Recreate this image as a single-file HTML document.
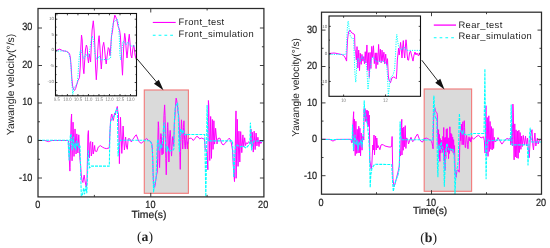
<!DOCTYPE html><html><head><meta charset="utf-8"><style>html,body{margin:0;padding:0;background:#fff;}svg{display:block;filter:blur(0.3px);}text{font-family:"Liberation Sans",Arial,sans-serif;fill:#222;text-rendering:geometricPrecision;stroke:#222;stroke-width:0.22px;}.cap{font-family:"Liberation Serif","Times New Roman",serif;stroke:none;}</style></head><body><svg width="550" height="248" viewBox="0 0 550 248"><rect width="550" height="248" fill="#fff"/><defs><clipPath id="ca"><rect x="38" y="8.5" width="225.9" height="188.4"/></clipPath><clipPath id="cb"><rect x="321.5" y="12.2" width="220" height="182.0"/></clipPath><clipPath id="cia"><rect x="55.5" y="13.5" width="81" height="82.3"/></clipPath><clipPath id="cib"><rect x="329" y="16" width="91.5" height="80.3"/></clipPath></defs><rect x="144.3" y="90" width="44.1" height="103.3" fill="#dadada" stroke="#f27d7d" stroke-width="1.15"/><g clip-path="url(#ca)" fill="none" stroke-linejoin="round"><polyline points="38,140.5 45,140.5 47,141.2 48.5,141.6 50,141 52,140.5 68,140.5 68.7,142 69,152.85 69.9,171.1 70.02,167.55 71.1,120.38 71.6,114 72.06,160.79 73.06,122.16 74.03,156.38 75.03,128.93 76.06,154 76.82,133.89 77.88,152.98 78.76,134.81 79.83,157.76 80.6,165 81.2,174 82.1,181 82.9,182.5 83.6,178 84.2,175 85.2,182 86.3,187 87,180 87.4,160 87.9,135 88.4,130.6 88.9,150 89.4,158 90,143 90.7,141.5 91.3,156 92,152 92.6,142 93.3,154 94,150 94.6,145.5 95.2,151 96.7,151.6 98.3,147 100.3,145.6 102.3,147 104.3,148.1 106.3,148.6 108.8,148.1 109.3,147 109.8,135 110.5,122 111.2,116 111.8,114 112.4,117 113.2,120.5 114,117 114.6,113 115.3,115 116,111 116.8,108 117.3,106.5 117.9,112 118.5,114.1 119,140 119.4,163.7 119.9,140 120.5,117.3 121.1,135 121.8,153.4 122.5,140 123.1,126 123.8,140 124.4,150 125,145 125.6,137 126.4,146 127.3,149.3 128.2,138.8 129.8,138.8 131.4,142 132.6,139.5 133.8,138 135,136 136.3,134.8 137.5,138 138.7,141.3 141.1,143.3 143.5,141.5 144.4,140.5 144.36,140.09 145.17,139.73 146.56,138.43 148.22,140.32 150.26,141.15 151.28,142.34 151.92,144.23 152.35,148.97 152.73,158.45 153.1,172.67 153.53,182.15 154.07,186.29 154.6,187.36 155.14,185.11 155.67,180.96 156.43,175.63 157.23,172.08 157.66,158.45 157.93,137.12 158.3,121.72 158.68,127.64 158.94,145.42 159.21,160.82 159.59,167.57 159.96,153.71 160.39,139.49 160.93,133.57 161.36,136.53 161.68,148.97 162.05,154.9 162.48,144.23 162.86,148.97 163.18,153.71 163.5,137.12 163.98,115.8 164.63,104.9 165.06,115.8 165.43,133.57 165.81,158.45 166.24,174.8 166.67,160.82 167.04,139.49 167.42,127.64 167.74,122.55 168.11,133.57 168.49,148.97 168.92,162 169.29,151.34 169.67,135.94 170.2,130.37 170.63,137.12 171.12,148.97 171.54,156.08 172.03,146.6 172.67,136.65 173.15,138.31 173.58,146.25 174.01,134.75 174.39,122.91 174.92,116.98 175.46,106.32 176.15,98.14 176.69,100.39 177.17,103.59 177.6,107.5 177.98,111.77 178.67,115.32 179.16,122.91 179.59,139.49 179.96,157.27 180.28,169.35 180.6,151.34 180.98,133.57 181.46,119.82 181.89,126.46 182.27,139.49 182.7,148.97 183.12,139.49 183.5,127.64 183.93,120.77 184.36,132.38 184.79,145.42 185.27,148.97 185.75,139.49 186.18,133.92 186.61,137.12 186.98,145.42 187.41,148.97 187.79,141.86 187.7,144 188.5,139 190,138.1 191.6,138.4 193.3,140.5 195,138.5 196.5,136.5 198,136.8 199.7,138.9 201.3,138 203,138.6 204.5,139.3 205.3,150 206.9,150.82 207.87,169.75 208.4,100.5 208.76,105.35 209.77,160.54 210.67,116.48 211.48,158.4 212.33,119.48 213.07,149.36 213.88,120.73 214.61,144.1 215.6,128.27 217,144 218,138.5 219.9,138.1 221.5,143 223,145 225,143.5 226.8,141 228,139.5 229.3,138.1 230.5,140 231.5,144 232.5,150 233.2,164 234.5,181.6 235.3,143.83 236,110.9 236.11,178.29 237.25,119.24 238.06,166.38 238.95,131.2 239.8,162.02 240.68,131.6 241.79,152.66 242.9,134.9 243.68,146.99 244.67,137.78 245.5,145.48 246.48,142.72 247.53,143.89 248.51,141.79 250,143 250.3,143.7 251,129.2 251.48,146.36 252.31,132.27 253.28,152.08 254.13,131.13 255.11,149.6 256.09,133.03 256.93,145.9 257.9,137.26 258.99,146.57 259.81,140.06 260.85,143.52 261.9,141.83 262.84,140.75" stroke="#ff00ff" stroke-width="1.0"/><polyline points="38,140.2 68,140.2 68.6,150 69.1,160 69.7,146 70.3,136 71,134 71.6,140 72.2,150 72.8,142 73.4,137 74.2,148 75,143 75.8,150 76.6,141 77.4,146 78.2,143 79,148 80,146 80.6,170 81.3,196 82.5,195 83.6,188 84.6,194 85.8,186 86.8,193 87.5,175 88.2,150 88.8,160 89.6,168 91.2,166.1 109.3,166.1 109.6,150 110,130 110.6,122 111.5,120 112.5,118 113.5,117 114.5,115 115.5,112 116.3,110 116.9,108.5 117.4,112 117.7,130 118.1,156 118.6,150 119.3,142 120.5,140.2 144.4,140.2 144.36,140.68 149.99,140.68 151.49,143.64 152.3,150.16 152.78,163.19 153.1,177.41 153.64,191.98 154.17,185.7 154.98,182.15 156,179.78 156.53,165.56 156.96,151.34 157.39,141.86 158.03,139.49 158.84,145.42 159.64,150.16 160.71,144.23 161.79,147.79 162.75,139.49 163.5,127.64 164.15,122.91 164.74,128.83 165.54,144.23 166.61,151.34 167.68,146.6 168.76,151.34 170.36,150.75 172.51,150.75 173.9,148.97 174.28,127.64 174.65,114.61 175.3,107.5 176.15,105.13 176.96,103.95 177.6,103.12 178.14,108.69 178.57,125.27 178.89,145.42 179.37,151.34 179.91,139.49 180.55,128.83 181.36,130.01 182.16,133.57 183.23,130.01 184.57,134.75 187.79,134.75 187.7,134.5 204.7,134.5 205.2,160 205.8,196.6 206.3,170 207.1,105 207.6,125 208.2,140.9 232.5,140.9 233.3,160 233.8,177.3 234.5,160 235.5,146.4 237,145 240,147 243,146 246,148 248,146 249.8,144 250.4,123 251,135 251.6,150 252.5,145 254,141 263.5,141" stroke="#00ffff" stroke-width="1.1" stroke-dasharray="3 1"/></g><rect x="38" y="8.5" width="225.9" height="188.4" fill="none" stroke="#2b2b2b" stroke-width="1.25"/><path d="M150.75,196.9v-4M150.75,8.5v4M94.38,196.9v-2M94.38,8.5v2M207.12,196.9v-2M207.12,8.5v2M38,28h4M263.9,28h-4M38,65.5h4M263.9,65.5h-4M38,103h4M263.9,103h-4M38,140.5h4M263.9,140.5h-4M38,178h4M263.9,178h-4M38,46.75h2M263.9,46.75h-2M38,84.25h2M263.9,84.25h-2M38,121.75h2M263.9,121.75h-2M38,159.25h2M263.9,159.25h-2" stroke="#2b2b2b" stroke-width="0.9" fill="none"/><text x="32.3" y="30.2" font-size="10.5" text-anchor="end" textLength="10.16" lengthAdjust="spacingAndGlyphs">30</text><text x="32.3" y="67.7" font-size="10.5" text-anchor="end" textLength="10.16" lengthAdjust="spacingAndGlyphs">20</text><text x="32.3" y="105.2" font-size="10.5" text-anchor="end" textLength="10.16" lengthAdjust="spacingAndGlyphs">10</text><text x="32.3" y="142.7" font-size="10.5" text-anchor="end" textLength="5.08" lengthAdjust="spacingAndGlyphs">0</text><text x="32.3" y="181" font-size="10.5" text-anchor="end" textLength="13.2" lengthAdjust="spacingAndGlyphs">-10</text><text x="37.7" y="208.3" font-size="10.5" text-anchor="middle" textLength="5.08" lengthAdjust="spacingAndGlyphs">0</text><text x="150.45" y="208.3" font-size="10.5" text-anchor="middle" textLength="10.16" lengthAdjust="spacingAndGlyphs">10</text><text x="263.2" y="208.3" font-size="10.5" text-anchor="middle" textLength="10.16" lengthAdjust="spacingAndGlyphs">20</text><text x="149" y="217.6" font-size="10.4" text-anchor="middle">Time(s)</text><text transform="translate(14.2,84.5) rotate(-90)" font-size="10.4" text-anchor="middle" style="stroke:none">Yawangle velocity(°/s)</text><text class="cap" x="145" y="241.3" font-size="13.7" text-anchor="middle">(<tspan font-weight="bold">a</tspan>)</text><line x1="152.8" y1="22.45" x2="175.7" y2="22.45" stroke="#ff00ff" stroke-width="1.1"/><line x1="152.8" y1="35.2" x2="175.7" y2="35.2" stroke="#00ffff" stroke-width="1.1" stroke-dasharray="2.8 3"/><text x="178.6" y="25.0" font-size="9.4" letter-spacing="0.38" style="stroke:none">Front_test</text><text x="178.6" y="37.4" font-size="9.4" letter-spacing="0.38" style="stroke:none">Front_simulation</text><rect x="55.5" y="13.5" width="81" height="82.3" fill="#fff"/><g clip-path="url(#cia)" fill="none" stroke-linejoin="round"><polyline points="55.5,50.5 57,50.2 59.6,49.1 62.7,50.7 66.5,51.4 68.4,52.4 69.6,54 70.4,58 71.1,66 71.8,78 72.6,86 73.6,89.5 74.6,90.4 75.6,88.5 76.6,85 78,80.5 79.5,77.5 80.3,66 80.8,48 81.5,35 82.2,40 82.7,55 83.2,68 83.9,73.7 84.6,62 85.4,50 86.4,45 87.2,47.5 87.8,58 88.5,63 89.3,54 90,58 90.6,62 91.2,48 92.1,30 93.3,20.8 94.1,30 94.8,45 95.5,66 96.3,79.8 97.1,68 97.8,50 98.5,40 99.1,35.7 99.8,45 100.5,58 101.3,69 102,60 102.7,47 103.7,42.3 104.5,48 105.4,58 106.2,64 107.1,56 108.3,47.6 109.2,49 110,55.7 110.8,46 111.5,36 112.5,31 113.5,22 114.8,15.1 115.8,17 116.7,19.7 117.5,23 118.2,26.6 119.5,29.6 120.4,36 121.2,50 121.9,65 122.5,75.2 123.1,60 123.8,45 124.7,33.4 125.5,39 126.2,50 127,58 127.8,50 128.5,40 129.3,34.2 130.1,44 130.9,55 131.8,58 132.7,50 133.5,45.3 134.3,48 135,55 135.8,58 136.5,52" stroke="#ff00ff" stroke-width="1"/><polyline points="55.5,51 66,51 68.8,53.5 70.3,59 71.2,70 71.8,82 72.8,94.3 73.8,89 75.3,86 77.2,84 78.2,72 79,60 79.8,52 81,50 82.5,55 84,59 86,54 88,57 89.8,50 91.2,40 92.4,36 93.5,41 95,54 97,60 99,56 101,60 104,59.5 108,59.5 110.6,58 111.3,40 112,29 113.2,23 114.8,21 116.3,20 117.5,19.3 118.5,24 119.3,38 119.9,55 120.8,60 121.8,50 123,41 124.5,42 126,45 128,42 130.5,46 136.5,46" stroke="#00ffff" stroke-width="1" stroke-dasharray="1.2 1.2"/></g><rect x="55.5" y="13.5" width="81" height="82.3" fill="none" stroke="#111" stroke-width="1.1"/><path d="M56.9,95.8v-1.8M56.9,13.5v1.8M67.41,95.8v-1.8M67.41,13.5v1.8M77.93,95.8v-1.8M77.93,13.5v1.8M88.44,95.8v-1.8M88.44,13.5v1.8M98.96,95.8v-1.8M98.96,13.5v1.8M109.47,95.8v-1.8M109.47,13.5v1.8M119.99,95.8v-1.8M119.99,13.5v1.8M130.5,95.8v-1.8M130.5,13.5v1.8M55.5,19.2h1.8M136.5,19.2h-1.8M55.5,35.03h1.8M136.5,35.03h-1.8M55.5,50.85h1.8M136.5,50.85h-1.8M55.5,66.67h1.8M136.5,66.67h-1.8M55.5,82.5h1.8M136.5,82.5h-1.8M55.5,27.11h1.0M136.5,27.11h-1.0M55.5,42.94h1.0M136.5,42.94h-1.0M55.5,58.76h1.0M136.5,58.76h-1.0M55.5,74.59h1.0M136.5,74.59h-1.0M55.5,90.41h1.0M136.5,90.41h-1.0" stroke="#111" stroke-width="0.8" fill="none"/><path d="M62.16,95.8v-1M72.67,95.8v-1M83.19,95.8v-1M93.7,95.8v-1M104.22,95.8v-1M114.73,95.8v-1M125.25,95.8v-1" stroke="#111" stroke-width="0.8"/><text x="53.9" y="19.8" font-size="4.5" text-anchor="end" style="fill:#6a6a6a;stroke:none">10</text><text x="53.9" y="35.63" font-size="4.5" text-anchor="end" style="fill:#6a6a6a;stroke:none">5</text><text x="53.9" y="51.45" font-size="4.5" text-anchor="end" style="fill:#6a6a6a;stroke:none">0</text><text x="53.9" y="67.27" font-size="4.5" text-anchor="end" style="fill:#6a6a6a;stroke:none">-5</text><text x="53.9" y="83.1" font-size="4.5" text-anchor="end" style="fill:#6a6a6a;stroke:none">-10</text><text x="56.9" y="100.6" font-size="5.1" text-anchor="middle" textLength="5.6" lengthAdjust="spacingAndGlyphs" style="fill:#777;stroke:none">9.5</text><text x="67.41" y="100.6" font-size="5.1" text-anchor="middle" textLength="8.1" lengthAdjust="spacingAndGlyphs" style="fill:#777;stroke:none">10.0</text><text x="77.93" y="100.6" font-size="5.1" text-anchor="middle" textLength="8.1" lengthAdjust="spacingAndGlyphs" style="fill:#777;stroke:none">10.5</text><text x="88.44" y="100.6" font-size="5.1" text-anchor="middle" textLength="8.1" lengthAdjust="spacingAndGlyphs" style="fill:#777;stroke:none">11.0</text><text x="98.96" y="100.6" font-size="5.1" text-anchor="middle" textLength="8.1" lengthAdjust="spacingAndGlyphs" style="fill:#777;stroke:none">11.5</text><text x="109.47" y="100.6" font-size="5.1" text-anchor="middle" textLength="8.1" lengthAdjust="spacingAndGlyphs" style="fill:#777;stroke:none">12.0</text><text x="119.99" y="100.6" font-size="5.1" text-anchor="middle" textLength="8.1" lengthAdjust="spacingAndGlyphs" style="fill:#777;stroke:none">12.5</text><text x="130.5" y="100.6" font-size="5.1" text-anchor="middle" textLength="8.1" lengthAdjust="spacingAndGlyphs" style="fill:#777;stroke:none">13.0</text><line x1="136.8" y1="58.6" x2="157.69" y2="83.33" stroke="#111" stroke-width="0.9"/><polygon points="163.5,90.2 153.96,83.86 158.84,79.73" fill="#111"/><rect x="424.2" y="89" width="47.4" height="102.3" fill="#dadada" stroke="#f27d7d" stroke-width="1.15"/><g clip-path="url(#cb)" fill="none" stroke-linejoin="round"><polyline points="321.5,139.3 330,139.4 331.5,140.5 333,141 334.5,140.3 336.5,139.4 351,139.3 351.6,142.71 352.32,142.5 353.01,122.5 353.65,111.7 353.73,151.09 354.43,119.13 355.22,155.65 355.86,121.27 356.65,153.49 357.22,129.33 358.05,153.03 358.78,126.23 359.35,152.83 359.92,128.2 360.55,155.82 361.24,133 362.04,150.18 362.78,136.13 363.8,140 364.1,110 364.1,108.95 364.63,117.12 365.06,108.53 365.53,121.38 366.1,110.45 366.62,121.27 367.15,110.06 367.64,124.66 368.22,111.2 368.78,126.6 369.32,115.04 369.8,160 370.5,165 371.2,169.3 371.8,165 372.3,155 372.8,145 373.3,150 374,135 374.5,155 375.1,140 375.6,136 376.2,150 376.8,138 377.5,148 378.2,145.6 379.9,149.7 381,145 382,144.5 383.5,145 385,146 387,146.5 389,147 391,147 391.7,146 392.1,136.5 392.5,160 393,180 394.1,186.6 395,184 396.5,178 398,172 399.3,166 399.8,151.04 400.55,156.01 401.35,125.48 401.8,119.3 401.97,155.03 402.6,128.02 403.19,150.29 403.81,126.99 404.49,146.65 405.22,125.65 405.86,148.45 406.67,137.9 407.8,140 408.5,144 409.5,141 411,137.3 412.5,141.5 414,140.5 415.5,137 417.5,134 419.5,139.5 421.9,142.1 423,141.5 424.2,139.5 423.83,138.77 424.88,138.51 426.46,138.11 427.51,138.51 428.56,139.17 429.61,139.7 430.66,140.22 431.45,141.41 432.13,143.4 432.66,146.3 433.08,148.81 433.29,134.15 433.55,120.93 433.92,113.01 434.34,109.04 434.86,107.72 435.39,110.36 435.91,111.69 436.44,112.35 436.96,113.01 437.28,114.33 437.49,134.15 437.8,135.74 438.18,147.52 438.55,129.67 438.98,157.98 439.42,134.25 439.86,161.4 440.23,138.42 440.74,153.13 441.13,139.97 441.66,148.85 442.09,142.82 442.45,152.38 442.86,136.43 443.24,151.28 443.74,127.51 444.2,161.1 444.63,137.75 445,170.36 445.39,137.31 445.82,158.62 446.28,129.38 446.69,143.87 447.18,128.54 447.64,152.18 448.15,137.91 448.56,158.69 448.94,137.88 449.43,153.48 449.87,126.82 450.35,149.53 450.81,133.07 451.22,151.14 451.68,134.37 452.12,149.27 452.65,137.05 453.12,152.55 453.61,139.62 454.14,154.45 454.55,145.59 454.97,168.5 455.34,173.78 456.13,177.35 456.86,171.01 457.7,169.82 458.49,170.48 459.17,172.2 459.49,160.57 459.7,147.36 460.01,140.75 460.38,131.5 460.69,140.75 461.01,134.15 461.43,124.11 461.8,134.15 462.16,144.72 462.48,131.5 462.85,121.73 463.21,136.79 463.58,144.72 464,127.54 464.26,120.67 464.58,127.54 464.89,140.75 465.21,147.36 465.63,147.62 466.1,138.11 466.63,135.47 467.15,140.75 467.52,144.72 467.94,148.81 468.46,140.75 468.99,136.79 469.51,140.75 470.04,138.11 470.83,142.07 471.82,136.79 471,138 471.6,137 473.5,139.3 476,136.8 478.5,135.2 481,138 483.5,136.8 484.3,140.53 485.06,153.05 485.88,109.48 486,105.7 486.51,156.15 487.26,117.51 488.01,156.34 488.79,115.81 489.41,151.42 490.07,121.48 490.85,149.22 491.46,126.61 492.2,149.97 492.94,128.46 493.6,148.5 494.22,137.31 494.89,141.61 496.5,141 498,137.6 500,141 501.9,144.1 503.5,142 505,140 507,138.5 509,139.3 510.3,138 510.8,144.83 511.36,143.65 511.97,124.97 512.53,145.85 512.9,104.1 513.28,112.18 514.12,159.83 514.78,123.88 515.42,156.87 516.04,129.84 516.85,157.97 517.47,131.17 518.17,158.4 518.86,130.26 519.44,152.5 520.1,132.53 520.92,149.31 521.6,136.02 522.43,146.46 523.26,135.36 524.5,145 525.5,136 526.5,146 527.5,138 528.4,150 529.2,157.7 530.2,140 531.2,133 532,129.7 532.8,145 533.5,150 534.3,139 534.9,133 535.8,146 536.6,142 537.4,138 538.2,144 539,141 540,139.5 541.5,140" stroke="#ff00ff" stroke-width="1.0"/><polyline points="321.5,139.5 352.2,139.5 352.5,125 353,139 353.5,150 354,145 355,135 356,145 357,140 358,150 359,142 360,145 361,140 362,147 363.5,130 363.9,115 364.2,100.8 364.6,110 365.5,115 366.5,120 367.5,126 368.5,135 369.5,150 370.2,187.5 370.8,175 372,168 374.7,164.3 391.7,164.5 392.5,180 393.3,191.4 394.5,185 396,180 398,175 399.3,168 399.6,150 400.1,121.7 400.5,135 401.5,139.7 424.2,139.7 423.83,139.96 432.76,139.96 433.08,127.54 433.39,107.72 433.81,95.96 434.07,97.15 434.34,105.08 434.86,114.33 435.39,116.97 435.91,118.95 436.44,118.29 436.8,120.93 437.07,140.75 437.49,167.18 437.91,176.69 438.27,160.57 438.54,147.36 439.06,144.72 440.11,150 441.16,142.07 442.21,147.36 443.26,150 443.79,163.21 444.31,186.34 444.84,173.78 445.36,157.93 446.15,147.36 446.94,143.4 447.99,147.36 449.04,150 450.09,148.68 451.14,150 452.19,148.68 453.24,150 454.03,152.64 454.55,167.18 454.97,194.66 455.34,187 455.86,173.78 456.39,169.82 457.44,167.18 458.23,160.57 458.75,140.75 459.12,120.93 459.43,113.54 459.8,120.93 460.33,128.86 461.11,131.5 462.16,134.15 463.21,130.18 464.26,134.15 465.31,134.68 471.82,134.68 471,133.5 484,133.5 484.5,100 484.9,68.9 485.3,110 485.7,150 486.1,178.8 486.5,160 487,145 488,140 490,141 495,140.1 510.3,140.1 510.7,133 511.2,104.9 511.6,125 512,145 513,144.9 527.4,144.9 528,164.9 528.8,150 529.5,135 530.2,128 530.8,135 531.6,142 541.5,142" stroke="#00ffff" stroke-width="1.1" stroke-dasharray="3 1"/></g><rect x="321.5" y="12.2" width="220" height="182.0" fill="none" stroke="#2b2b2b" stroke-width="1.25"/><path d="M431.5,194.2v-4M431.5,12.2v4M376.5,194.2v-2M376.5,12.2v2M486.5,194.2v-2M486.5,12.2v2M321.5,30.1h4M541.5,30.1h-4M321.5,66.5h4M541.5,66.5h-4M321.5,102.9h4M541.5,102.9h-4M321.5,139.3h4M541.5,139.3h-4M321.5,175.7h4M541.5,175.7h-4M321.5,48.3h2M541.5,48.3h-2M321.5,84.7h2M541.5,84.7h-2M321.5,121.1h2M541.5,121.1h-2M321.5,157.5h2M541.5,157.5h-2" stroke="#2b2b2b" stroke-width="0.9" fill="none"/><text x="317.2" y="33" font-size="10.5" text-anchor="end" textLength="10.16" lengthAdjust="spacingAndGlyphs">30</text><text x="317.2" y="69.4" font-size="10.5" text-anchor="end" textLength="10.16" lengthAdjust="spacingAndGlyphs">20</text><text x="317.2" y="105.8" font-size="10.5" text-anchor="end" textLength="10.16" lengthAdjust="spacingAndGlyphs">10</text><text x="317.2" y="142.2" font-size="10.5" text-anchor="end" textLength="5.08" lengthAdjust="spacingAndGlyphs">0</text><text x="317.2" y="178.6" font-size="10.5" text-anchor="end" textLength="13.2" lengthAdjust="spacingAndGlyphs">-10</text><text x="321" y="206.3" font-size="10.5" text-anchor="middle" textLength="5.08" lengthAdjust="spacingAndGlyphs">0</text><text x="431" y="206.3" font-size="10.5" text-anchor="middle" textLength="10.16" lengthAdjust="spacingAndGlyphs">10</text><text x="541" y="206.3" font-size="10.5" text-anchor="middle" textLength="10.16" lengthAdjust="spacingAndGlyphs">20</text><text x="430.1" y="213.7" font-size="10.2" text-anchor="middle">Time(s)</text><text transform="translate(298.8,87.4) rotate(-90)" font-size="10.1" text-anchor="middle" style="stroke:none">Yawangle velocity(°/s)</text><text class="cap" x="428.6" y="241.5" font-size="13.7" text-anchor="middle">(<tspan font-weight="bold">b</tspan>)</text><line x1="433.8" y1="25.1" x2="456" y2="25.1" stroke="#ff00ff" stroke-width="1.3"/><line x1="433.8" y1="37.8" x2="456" y2="37.8" stroke="#00ffff" stroke-width="1.1" stroke-dasharray="2.7 3.1"/><text x="458.4" y="28.1" font-size="9.4" letter-spacing="0.4" style="stroke:none">Rear_test</text><text x="458.4" y="39.4" font-size="9.4" letter-spacing="0.4" style="stroke:none">Rear_simulation</text><rect x="329" y="16" width="91.5" height="80.3" fill="#fff"/><g clip-path="url(#cib)" fill="none" stroke-linejoin="round"><polyline points="329,53.5 331,53.3 334,53 336,53.3 338,53.8 340,54.2 342,54.6 343.5,55.5 344.8,57 345.8,59.2 346.6,61.1 347,50 347.5,40 348.2,34 349,31 350,30 351,32 352,33 353,33.5 354,34 354.6,35 355,50 355.6,51.21 356.33,60.12 357.04,46.61 357.84,68.04 358.69,50.08 359.52,70.63 360.23,53.23 361.19,64.36 361.95,54.41 362.95,61.13 363.77,56.56 364.46,63.8 365.24,51.73 365.96,62.97 366.92,44.97 367.79,70.4 368.6,52.72 369.3,77.41 370.05,52.39 370.88,68.52 371.76,46.39 372.54,57.36 373.46,45.76 374.33,63.65 375.31,52.85 376.09,68.58 376.81,52.83 377.75,64.64 378.59,44.45 379.5,61.65 380.37,49.18 381.16,62.86 382.04,50.17 382.88,61.45 383.88,52.2 384.78,63.93 385.7,54.14 386.72,65.37 387.5,58.66 388.3,76 389,80 390.5,82.7 391.9,77.9 393.5,77 395,77.5 396.3,78.8 396.9,70 397.3,60 397.9,55 398.6,48 399.2,55 399.8,50 400.6,42.4 401.3,50 402,58 402.6,48 403.3,40.6 404,52 404.7,58 405.5,45 406,39.8 406.6,45 407.2,55 407.8,60 408.6,60.2 409.5,53 410.5,51 411.5,55 412.2,58 413,61.1 414,55 415,52 416,55 417,53 418.5,56 420.4,52" stroke="#ff00ff" stroke-width="1"/><polyline points="329,54.4 346,54.4 346.6,45 347.2,30 348,21.1 348.5,22 349,28 350,35 351,37 352,38.5 353,38 353.7,40 354.2,55 355,75 355.8,82.2 356.5,70 357,60 358,58 360,62 362,56 364,60 366,62 367,72 368,89.5 369,80 370,68 371.5,60 373,57 375,60 377,62 379,61 381,62 383,61 385,62 386.5,64 387.5,75 388.3,95.8 389,90 390,80 391,77 393,75 394.5,70 395.5,55 396.2,40 396.8,34.4 397.5,40 398.5,46 400,48 402,50 404,47 406,50 408,50.4 420.4,50.4" stroke="#00ffff" stroke-width="1" stroke-dasharray="1.2 1.2"/></g><rect x="329" y="16" width="91.5" height="80.3" fill="none" stroke="#111" stroke-width="1.1"/><path d="M343.6,96.3v-1.8M343.6,16v1.8M385.5,96.3v-1.8M385.5,16v1.8M329,26.35h1.8M420.5,26.35h-1.8M329,53.9h1.8M420.5,53.9h-1.8M329,81.45h1.8M420.5,81.45h-1.8M329,40.12h1.0M420.5,40.12h-1.0M329,67.67h1.0M420.5,67.67h-1.0" stroke="#111" stroke-width="0.8" fill="none"/><text x="327.2" y="27.75" font-size="4.5" text-anchor="end" style="fill:#6a6a6a;stroke:none">10</text><text x="327.2" y="55.3" font-size="4.5" text-anchor="end" style="fill:#6a6a6a;stroke:none">0</text><text x="327.2" y="82.85" font-size="4.5" text-anchor="end" style="fill:#6a6a6a;stroke:none">-10</text><text x="343.6" y="101.7" font-size="5.1" text-anchor="middle" textLength="4.8" lengthAdjust="spacingAndGlyphs" style="fill:#777;stroke:none">10</text><text x="385.5" y="101.7" font-size="5.1" text-anchor="middle" textLength="4.8" lengthAdjust="spacingAndGlyphs" style="fill:#777;stroke:none">12</text><line x1="421.8" y1="60.2" x2="438.99" y2="82.39" stroke="#111" stroke-width="0.9"/><polygon points="444.5,89.5 435.23,82.76 440.29,78.84" fill="#111"/></svg></body></html>
